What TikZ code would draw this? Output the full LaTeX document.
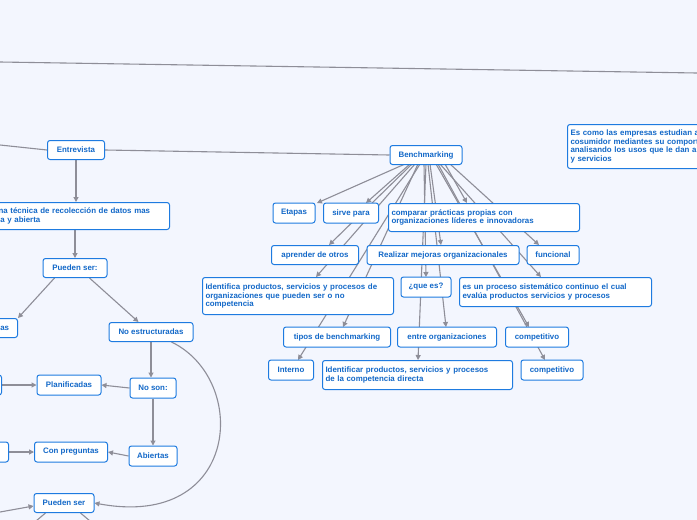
\documentclass[tikz,border=0pt]{standalone}
\usepackage{fontspec}
\setmainfont{Liberation Sans}
\usetikzlibrary{arrows.meta}
\definecolor{bg}{HTML}{F3F6FE}
\definecolor{bl}{HTML}{1E7BE0}
\definecolor{tx}{HTML}{1268C8}
\definecolor{ln}{HTML}{8E8E98}
\pgfdeclarelayer{edges}
\pgfsetlayers{edges,main}
\tikzset{
  bx/.style={draw=bl,fill=white,rounded corners=2.5pt,line width=1pt,text=tx,font=\bfseries\fontsize{7.9}{8.6}\selectfont,inner sep=3pt},
  ml/.style={align=left,text width=#1},
  ed/.style={draw=ln,line width=1.1pt},
  ar/.style={ed,-{Triangle[length=5pt,width=5pt]}}
}
\begin{document}
\begin{tikzpicture}[x=1pt,y=-1pt]
\begin{pgfonlayer}{edges}
\fill[bg] (0,0) rectangle (697,520);
\end{pgfonlayer}
\useasboundingbox (0,0) rectangle (697,520);
\coordinate (t1) at (0,62); \coordinate (t2) at (697,73);
\coordinate (l1) at (0,145); \coordinate (l2) at (0,512);
\coordinate (b1) at (36,521); \coordinate (b2) at (90,521);
% nodes
\node[bx,minimum width=57,minimum height=19] (ent) at (76,150) {Entrevista};
\node[bx,minimum width=72,minimum height=19] (ben) at (426,155) {Benchmarking};
\node[bx,ml=185,anchor=north west,minimum height=44] (es) at (567,124) {Es como las empresas estudian al\\cosumidor mediantes su comportamiento\\analisando los usos que le dan a productos\\y servicios};
\node[bx,ml=185,anchor=north east,minimum height=27] (tec) at (170,202) {Es una técnica de recolección de datos mas\\íntima y abierta};
\node[bx,minimum width=64,minimum height=19] (ps1) at (75,268) {Pueden ser:};
\node[bx,minimum width=70,minimum height=19,anchor=east] (est) at (18,328) {Estructuradas};
\node[bx,minimum width=84,minimum height=19] (noe) at (151,332) {No estructuradas};
\node[bx,minimum width=64,minimum height=20] (pla) at (69,385) {Planificadas};
\node[bx,minimum width=50,minimum height=20,anchor=east] (lx1) at (2,385) {};
\node[bx,minimum width=46,minimum height=20] (nos) at (153,388) {No son:};
\node[bx,minimum width=73,minimum height=20] (con) at (71,452) {Con preguntas};
\node[bx,minimum width=50,minimum height=20,anchor=east] (lx2) at (9,452) {};
\node[bx,minimum width=48,minimum height=20] (abi) at (153,456) {Abiertas};
\node[bx,minimum width=60,minimum height=19] (ps2) at (64,503) {Pueden ser};
\node[bx,minimum width=42,minimum height=20] (eta) at (294,213) {Etapas};
\node[bx,minimum width=55,minimum height=20] (sir) at (351,213) {sirve para};
\node[bx,ml=185,anchor=north west,minimum height=28] (com) at (388,203) {comparar prácticas propias con\\organizaciones líderes e innovadoras};
\node[bx,minimum width=87,minimum height=19] (apr) at (315,255) {aprender de otros};
\node[bx,minimum width=152,minimum height=19] (rea) at (443,255) {Realizar mejoras organizacionales};
\node[bx,minimum width=52,minimum height=19] (fun) at (553,255) {funcional};
\node[bx,ml=185,anchor=north west,minimum height=37] (ide) at (202,277) {Identifica productos, servicios y procesos de\\organizaciones que pueden ser o no\\competencia};
\node[bx,minimum width=50,minimum height=20] (que) at (426,287) {¿que es?};
\node[bx,ml=186,anchor=north west,minimum height=29] (pro) at (459,277) {es un proceso sistemático continuo el cual\\evalúa productos servicios y procesos};
\node[bx,minimum width=107,minimum height=20] (tip) at (337,337) {tipos de benchmarking};
\node[bx,minimum width=99,minimum height=20] (ent2) at (447,337) {entre organizaciones};
\node[bx,minimum width=63,minimum height=20] (cp1) at (537,337) {competitivo};
\node[bx,minimum width=45,minimum height=20] (int) at (291,370) {Interno};
\node[bx,ml=184,anchor=north west,minimum height=29] (idf) at (322,360) {Identificar productos, servicios y procesos\\de la competencia directa};
\node[bx,minimum width=62,minimum height=20] (cp2) at (552,370) {competitivo};
% edges
\begin{pgfonlayer}{edges}
\draw[ed] (t1) -- (t2);
\draw[ed] (l1) -- (ent.west);
\draw[ed] (ent.east) -- (ben.west);
\draw[ar] (ent.south) -- (ent.south |- tec.north);
\draw[ar] (ps1.north |- tec.south) -- (ps1.north);
\draw[ar] (ps1.south west) ++(12,0) -- (est.north east);
\draw[ar] (ps1.south east) ++(-18,0) -- ([xshift=30pt]noe.north west);
\draw[ar] (noe.south) -- (noe.south |- nos.north);
\draw[ar] (nos.west) -- (pla.east);
\draw[ar] (lx1.east) -- (pla.west);
\draw[ar] (nos.south) -- (abi.north);
\draw[ar] (abi.west) -- (con.east);
\draw[ar] (lx2.east) -- (con.west);
\draw[ar] ([xshift=-22pt]noe.south east) .. controls (250,380) and (240,530) .. (ps2.east);
\draw[ar] (l2) -- ([yshift=-3pt]ps2.west);
\draw[ed] ([xshift=12pt]ps2.south west) -- (b1);
\draw[ed] ([xshift=-14pt]ps2.south east) -- (b2);
\draw[ar] (405,164) -- (317,203);
\draw[ar] (410,164) -- (366,203);
\draw[ar] (445,164) -- (467,203);
\draw[ar] (412,164) -- (329,245);
\draw[ar] (415,164) -- (316,277);
\draw[ar] (418,164) -- (343,327);
\draw[ar] (420,164) -- (298,360);
\draw[ar] (424,164) -- (426,277);
\draw[ar] (428,164) -- (446,327);
\draw[ar] (426,164) -- (418,360);
\draw[ar] (430,164) -- (441,245);
\draw[ar] (440,164) -- (541,277);
\draw[ar] (450,164) -- (539,245);
\draw[ar] (436,164) -- (529,327);
\draw[ar] (438,164) -- (545,360);
\end{pgfonlayer}
\end{tikzpicture}
\end{document}
